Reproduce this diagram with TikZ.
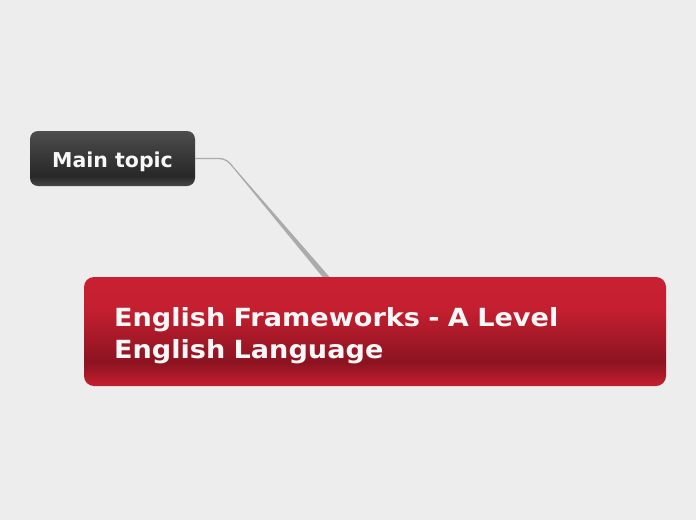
\documentclass[tikz,border=0pt]{standalone}
\usepackage{fontspec}
\setmainfont{DejaVu Sans}
\newfontfamily\widefont[FakeStretch=1.085]{DejaVu Sans}
\usetikzlibrary{calc}
\definecolor{bg}{HTML}{EDEDED}
\definecolor{linkgray}{HTML}{ABABAB}
\definecolor{txt}{HTML}{F7F7F7}
\definecolor{rA}{HTML}{C82032}
\definecolor{rB}{HTML}{C41F30}
\definecolor{rC}{HTML}{8C1320}
\definecolor{rD}{HTML}{C41F30}
\definecolor{dA}{HTML}{4E4E4E}
\definecolor{dB}{HTML}{3A3A3A}
\definecolor{dC}{HTML}{282828}
\definecolor{dD}{HTML}{474747}
\pgfdeclareverticalshading{redbox}{100bp}{color(0bp)=(rD); color(25bp)=(rD); color(36bp)=(rC); color(60bp)=(rB); color(75bp)=(rA); color(100bp)=(rA)}
\pgfdeclareverticalshading{darkbox}{100bp}{color(0bp)=(dD); color(25bp)=(dD); color(34bp)=(dC); color(55bp)=(dB); color(75bp)=(dA); color(100bp)=(dA)}
\newcommand{\lowered}[2]{\raisebox{-#1}[\height][\depth]{#2}}
\tikzset{
  topicbox/.style={shading=darkbox, rounded corners=8pt, minimum width=165pt, minimum height=55pt, inner sep=0pt, text=txt, font=\bfseries\fontsize{20.5}{24}\selectfont},
  centralbox/.style={shading=redbox, rounded corners=10pt, minimum width=582pt, minimum height=109pt, inner xsep=30pt, inner ysep=0pt, text width=522pt, align=left, text=txt, font=\widefont\bfseries\fontsize{25}{32}\selectfont},
  link/.style={draw=linkgray, line width=1.3pt},
}
\begin{document}
\begin{tikzpicture}[x=1pt,y=-1pt]
\fill[bg] (0,0) rectangle (696,520);
\useasboundingbox (0,0) rectangle (696,520);
% connector
\coordinate (k1) at (218,158.5);
\coordinate (k2) at (233,167);
\coordinate (k3) at (326.5,277.5);
\node[topicbox] (mt) at (112.5,158.5) {\lowered{3pt}{Main topic}};
\draw[link] (mt.east) -- (k1) .. controls (226,158.5) and (229,162) .. (k2);
\fill[linkgray] ($(k2)+(-0.7,0)$) -- ($(k2)+(0.7,0)$) -- ($(k3)+(3.5,0)$) -- ($(k3)+(-3.5,0)$) -- cycle;
\node[centralbox] (ct) at (375,331.5) {\lowered{4.5pt}{English Frameworks - A Level}\\\lowered{4.5pt}{English Language}};
\end{tikzpicture}
\end{document}
